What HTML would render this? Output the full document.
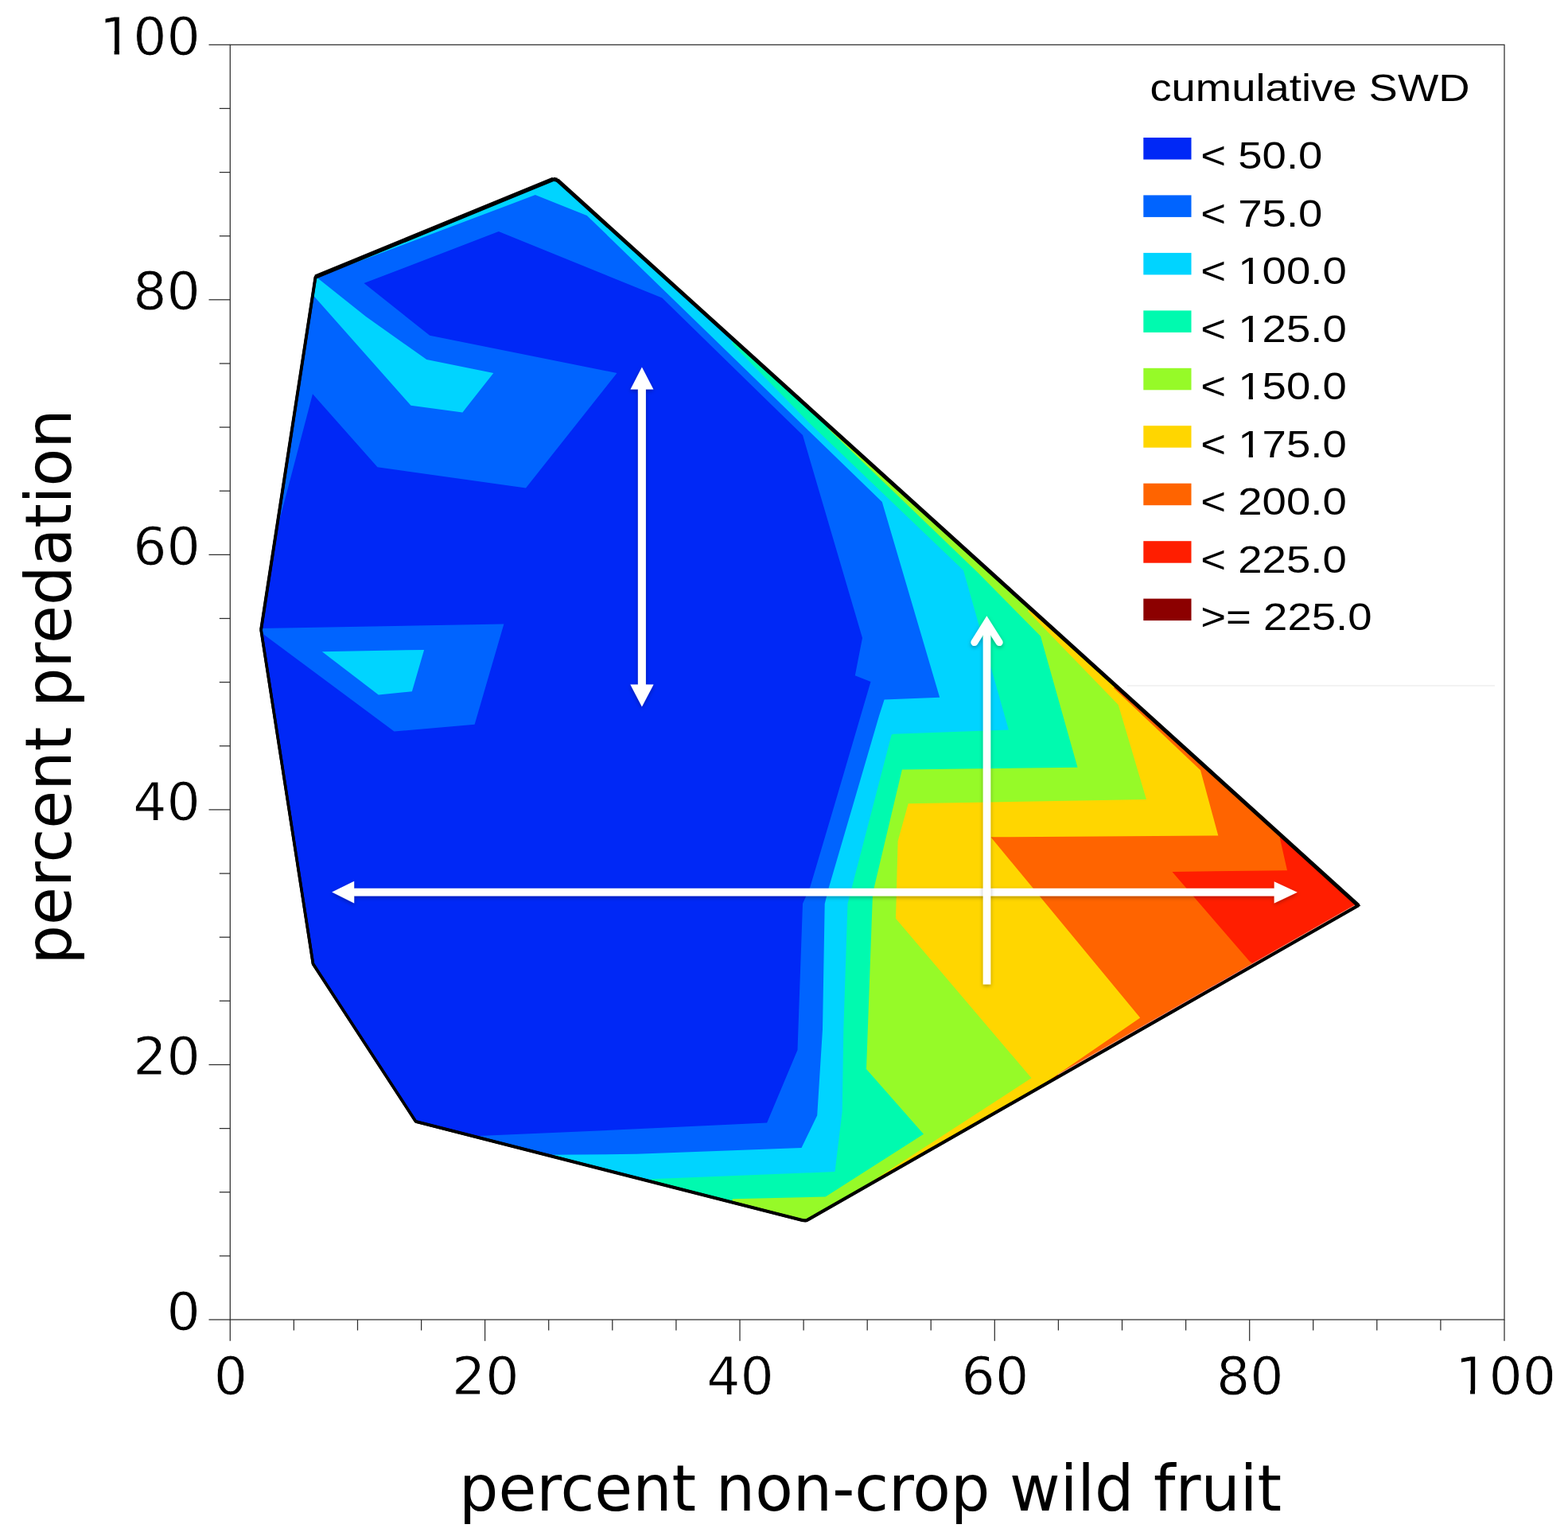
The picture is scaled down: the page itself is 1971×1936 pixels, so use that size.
<!DOCTYPE html>
<html lang="en"><head><meta charset="utf-8"><title>cumulative SWD contour plot</title>
<style>
html,body{margin:0;padding:0;background:#fff;}
body{width:1971px;height:1936px;overflow:hidden;}
svg{display:block;}
.tk{font-family:"DejaVu Sans","Liberation Sans",sans-serif;font-size:66.5px;fill:#000;stroke:#fff;stroke-width:0.8px;}
.ax{font-family:"DejaVu Sans","Liberation Sans",sans-serif;font-size:80px;fill:#000;}
.lg{font-family:"Liberation Sans",Arial,Helvetica,sans-serif;font-size:48.3px;fill:#000;}
</style></head><body>
<svg xmlns="http://www.w3.org/2000/svg" width="1971" height="1936" viewBox="0 0 1971 1936">
<defs>
<clipPath id="hull"><polygon points="695.5,225.2 700.5,226.3 1707.5,1138.3 1013.5,1534.5 1009.5,1534.3 522.6,1409.9 393.5,1211.8 328.1,791.7 396.6,348.0"/></clipPath>
<filter id="sh" x="-50%" y="-50%" width="200%" height="200%"><feDropShadow dx="0" dy="2" stdDeviation="2.5" flood-color="#000" flood-opacity="0.3"/></filter>
</defs>
<rect x="0" y="0" width="1971" height="1936" fill="#fff"/>
<g clip-path="url(#hull)">
<polygon points="695.5,225.2 700.5,226.3 1707.5,1138.3 1013.5,1534.5 1009.5,1534.3 522.6,1409.9 393.5,1211.8 328.1,791.7 396.6,348.0" fill="#0064FF"/>
<polygon points="457.5,356.1 626.8,291.0 832.3,374.6 1009.0,547.1 1084.0,802.0 1074.8,849.3 1094.5,857.1 1052.5,1000.0 1018.3,1115.3 1009.0,1136.0 1002.5,1320.0 964.1,1411.4 800.0,1419.3 602.0,1428.0 515.0,1425.0 380.0,1218.0 316.0,792.0 346.6,672.0 393.0,495.3 474.5,587.2 661.0,613.5 775.5,469.0 540.2,421.8" fill="#0028F6"/>
<polygon points="325.0,790.0 633.4,784.6 596.6,910.7 495.5,919.5 328.0,795.0" fill="#0064FF"/>
<polygon points="388.0,344.0 396.0,347.0 460.0,398.0 536.3,452.0 620.3,469.0 581.4,518.4 516.5,509.8 395.5,373.2 388.0,373.0" fill="#00D4FF"/>
<polygon points="404.9,819.3 533.1,816.9 517.9,869.2 475.8,873.6" fill="#00D4FF"/>
<polygon points="397.0,349.0 672.8,245.1 737.8,270.9 1108.8,631.1 1181.2,876.8 1111.6,879.5 1105.0,900.0 1042.0,1115.3 1036.7,1136.3 1034.0,1294.0 1027.2,1402.2 1007.5,1443.0 800.0,1450.8 694.0,1451.8 690.0,1480.0 1011.0,1560.0 1740.0,1138.0 697.0,200.0 390.0,330.0" fill="#00D4FF"/>
<polygon points="920.0,432.0 1016.9,531.3 1211.0,717.0 1267.9,917.5 1123.4,922.8 1120.7,923.6 1065.5,1136.0 1060.3,1294.0 1058.7,1397.0 1049.5,1473.1 818.4,1482.3 815.0,1500.0 1011.0,1560.0 1740.0,1138.0 930.0,415.0" fill="#00FAAF"/>
<polygon points="1040.0,538.0 1229.3,720.0 1308.0,799.8 1354.5,964.8 1133.9,967.4 1097.0,1123.2 1089.0,1344.0 1161.0,1425.8 1037.7,1504.6 920.8,1507.2 918.0,1525.0 1011.0,1560.0 1740.0,1138.0 1050.0,525.0" fill="#96FA28"/>
<polygon points="1292.0,768.5 1405.7,886.0 1441.0,1005.0 1141.7,1010.3 1128.6,1057.6 1126.0,1154.7 1296.5,1355.3 1074.0,1499.5 1070.0,1515.0 1740.0,1138.0 1300.0,760.0" fill="#FFD600"/>
<polygon points="1400.0,865.0 1509.0,968.2 1531.3,1050.5 1245.4,1052.3 1433.2,1279.5 1305.0,1367.5 1300.0,1380.0 1740.0,1138.0 1410.0,850.0" fill="#FF6400"/>
<polygon points="1608.8,1053.5 1618.0,1094.2 1473.5,1096.0 1570.7,1208.5 1574.0,1211.0 1430.0,1293.4 1395.0,1316.0 1395.0,1330.0 1740.0,1138.0 1615.0,1045.0" fill="#FF1E00"/>
</g>
<polygon points="695.5,225.2 700.5,226.3 1707.5,1138.3 1013.5,1534.5 1009.5,1534.3 522.6,1409.9 393.5,1211.8 328.1,791.7 396.6,348.0" fill="none" stroke="#000" stroke-width="3.4" stroke-linejoin="miter"/>
<line x1="1703.0" y1="1138.4" x2="1330.0" y2="1351.3" stroke="#ffb09a" stroke-width="1.6" stroke-opacity="0.85"/>
<g stroke="#000" stroke-linecap="butt" fill="none">
<line x1="695.5" y1="225.2" x2="700.5" y2="226.3" stroke-width="5.0"/>
<line x1="700.5" y1="226.3" x2="1707.5" y2="1138.3" stroke-width="5.0"/>
<line x1="1707.5" y1="1138.3" x2="1013.5" y2="1534.5" stroke-width="4.2"/>
<line x1="1013.5" y1="1534.5" x2="1009.5" y2="1534.3" stroke-width="4.0"/>
<line x1="1009.5" y1="1534.3" x2="522.6" y2="1409.9" stroke-width="4.0"/>
<line x1="522.6" y1="1409.9" x2="393.5" y2="1211.8" stroke-width="3.6"/>
<line x1="393.5" y1="1211.8" x2="328.1" y2="791.7" stroke-width="3.6"/>
<line x1="328.1" y1="791.7" x2="396.6" y2="348.0" stroke-width="3.9"/>
<line x1="396.6" y1="348.0" x2="695.5" y2="225.2" stroke-width="5.4"/>
</g>
<g stroke="#2e2e2e" stroke-width="1.25" fill="none">
<rect x="289.3" y="56.3" width="1601.7" height="1602.7"/>
<line x1="289.3" y1="1659.0" x2="289.3" y2="1685.8"/>
<line x1="289.3" y1="1659.0" x2="262.5" y2="1659.0"/>
<line x1="369.4" y1="1659.0" x2="369.4" y2="1672.5"/>
<line x1="289.3" y1="1578.9" x2="275.8" y2="1578.9"/>
<line x1="449.5" y1="1659.0" x2="449.5" y2="1672.5"/>
<line x1="289.3" y1="1498.7" x2="275.8" y2="1498.7"/>
<line x1="529.6" y1="1659.0" x2="529.6" y2="1672.5"/>
<line x1="289.3" y1="1418.6" x2="275.8" y2="1418.6"/>
<line x1="609.6" y1="1659.0" x2="609.6" y2="1685.8"/>
<line x1="289.3" y1="1338.5" x2="262.5" y2="1338.5"/>
<line x1="689.7" y1="1659.0" x2="689.7" y2="1672.5"/>
<line x1="289.3" y1="1258.3" x2="275.8" y2="1258.3"/>
<line x1="769.8" y1="1659.0" x2="769.8" y2="1672.5"/>
<line x1="289.3" y1="1178.2" x2="275.8" y2="1178.2"/>
<line x1="849.9" y1="1659.0" x2="849.9" y2="1672.5"/>
<line x1="289.3" y1="1098.1" x2="275.8" y2="1098.1"/>
<line x1="930.0" y1="1659.0" x2="930.0" y2="1685.8"/>
<line x1="289.3" y1="1017.9" x2="262.5" y2="1017.9"/>
<line x1="1010.1" y1="1659.0" x2="1010.1" y2="1672.5"/>
<line x1="289.3" y1="937.8" x2="275.8" y2="937.8"/>
<line x1="1090.2" y1="1659.0" x2="1090.2" y2="1672.5"/>
<line x1="289.3" y1="857.6" x2="275.8" y2="857.6"/>
<line x1="1170.2" y1="1659.0" x2="1170.2" y2="1672.5"/>
<line x1="289.3" y1="777.5" x2="275.8" y2="777.5"/>
<line x1="1250.3" y1="1659.0" x2="1250.3" y2="1685.8"/>
<line x1="289.3" y1="697.4" x2="262.5" y2="697.4"/>
<line x1="1330.4" y1="1659.0" x2="1330.4" y2="1672.5"/>
<line x1="289.3" y1="617.2" x2="275.8" y2="617.2"/>
<line x1="1410.5" y1="1659.0" x2="1410.5" y2="1672.5"/>
<line x1="289.3" y1="537.1" x2="275.8" y2="537.1"/>
<line x1="1490.6" y1="1659.0" x2="1490.6" y2="1672.5"/>
<line x1="289.3" y1="457.0" x2="275.8" y2="457.0"/>
<line x1="1570.7" y1="1659.0" x2="1570.7" y2="1685.8"/>
<line x1="289.3" y1="376.8" x2="262.5" y2="376.8"/>
<line x1="1650.7" y1="1659.0" x2="1650.7" y2="1672.5"/>
<line x1="289.3" y1="296.7" x2="275.8" y2="296.7"/>
<line x1="1730.8" y1="1659.0" x2="1730.8" y2="1672.5"/>
<line x1="289.3" y1="216.6" x2="275.8" y2="216.6"/>
<line x1="1810.9" y1="1659.0" x2="1810.9" y2="1672.5"/>
<line x1="289.3" y1="136.4" x2="275.8" y2="136.4"/>
<line x1="1891.0" y1="1659.0" x2="1891.0" y2="1685.8"/>
<line x1="289.3" y1="56.3" x2="262.5" y2="56.3"/>
</g>
<line x1="1417" y1="862" x2="1879" y2="862" stroke="#efefef" stroke-width="1.5"/>
<text class="tk" x="289.9" y="1753.1" text-anchor="middle">0</text>
<text class="tk" x="251.8" y="1671.6" text-anchor="end">0</text>
<text class="tk" x="610.2" y="1753.1" text-anchor="middle">20</text>
<text class="tk" x="251.8" y="1351.1" text-anchor="end">20</text>
<text class="tk" x="930.6" y="1753.1" text-anchor="middle">40</text>
<text class="tk" x="251.8" y="1030.5" text-anchor="end">40</text>
<text class="tk" x="1250.9" y="1753.1" text-anchor="middle">60</text>
<text class="tk" x="251.8" y="710.0" text-anchor="end">60</text>
<text class="tk" x="1571.3" y="1753.1" text-anchor="middle">80</text>
<text class="tk" x="251.8" y="389.4" text-anchor="end">80</text>
<text class="tk" x="1892.6" y="1753.1" text-anchor="middle">100</text>
<text class="tk" x="251.8" y="68.9" text-anchor="end">100</text>
<text class="ax" x="577" y="1898.8" textLength="1034" lengthAdjust="spacingAndGlyphs">percent non-crop wild fruit</text>
<text class="ax" transform="translate(88.6,1212.4) rotate(-90)" textLength="698" lengthAdjust="spacingAndGlyphs">percent predation</text>
<text class="lg" transform="translate(1445.4,127.2) scale(1.127,1)">cumulative SWD</text>
<rect x="1437.3" y="173.0" width="60.2" height="27.5" fill="#0028F6"/>
<text class="lg" transform="translate(1509.2,212.4) scale(1.13,1)">&lt; 50.0</text>
<rect x="1437.3" y="245.4" width="60.2" height="27.5" fill="#0064FF"/>
<text class="lg" transform="translate(1509.2,284.8) scale(1.13,1)">&lt; 75.0</text>
<rect x="1437.3" y="317.9" width="60.2" height="27.5" fill="#00D4FF"/>
<text class="lg" transform="translate(1509.2,357.3) scale(1.13,1)">&lt; 100.0</text>
<rect x="1437.3" y="390.4" width="60.2" height="27.5" fill="#00FAAF"/>
<text class="lg" transform="translate(1509.2,429.8) scale(1.13,1)">&lt; 125.0</text>
<rect x="1437.3" y="462.8" width="60.2" height="27.5" fill="#96FA28"/>
<text class="lg" transform="translate(1509.2,502.2) scale(1.13,1)">&lt; 150.0</text>
<rect x="1437.3" y="535.2" width="60.2" height="27.5" fill="#FFD600"/>
<text class="lg" transform="translate(1509.2,574.6) scale(1.13,1)">&lt; 175.0</text>
<rect x="1437.3" y="607.7" width="60.2" height="27.5" fill="#FF6400"/>
<text class="lg" transform="translate(1509.2,647.1) scale(1.13,1)">&lt; 200.0</text>
<rect x="1437.3" y="680.2" width="60.2" height="27.5" fill="#FF1E00"/>
<text class="lg" transform="translate(1509.2,719.6) scale(1.13,1)">&lt; 225.0</text>
<rect x="1437.3" y="752.6" width="60.2" height="27.5" fill="#8C0000"/>
<text class="lg" transform="translate(1509.2,792.0) scale(1.13,1)">&gt;= 225.0</text>
<g fill="#fff" stroke="none">
<rect x="131.3" y="63.2" width="12.3" height="6.2"/><rect x="150.0" y="63.2" width="11.6" height="6.2"/>
<rect x="1835.8" y="1747.2" width="12.3" height="6.2"/><rect x="1854.0" y="1747.2" width="12.2" height="6.2"/>
<rect x="1558.4" y="353.0" width="11.3" height="5.2"/><rect x="1574.9" y="353.0" width="10.2" height="5.2"/>
<rect x="1558.4" y="425.4" width="11.3" height="5.2"/><rect x="1574.9" y="425.4" width="10.2" height="5.2"/>
<rect x="1558.4" y="497.9" width="11.3" height="5.2"/><rect x="1574.9" y="497.9" width="10.2" height="5.2"/>
<rect x="1558.4" y="570.4" width="11.3" height="5.2"/><rect x="1574.9" y="570.4" width="10.2" height="5.2"/>
</g>
<g fill="#fff" stroke="none" filter="url(#sh)">
<polygon points="806.9,461.5 821.4,489.5 811.9,489.5 811.9,860.4 821.6,860.4 806.9,888.5 792.3,860.4 801.9,860.4 801.9,489.5 792.5,489.5"/>
<polygon points="417.2,1121.6 445.2,1107.8 445.2,1116.7 1601.7,1116.7 1601.7,1108.3 1630.8,1121.8 1601.7,1135.6 1601.7,1126.5 445.2,1126.5 445.2,1135.4"/>
</g>
<g fill="none" stroke="#fff" filter="url(#sh)">
<line x1="1240.5" y1="783" x2="1240.5" y2="1237.5" stroke-width="9.6" stroke-linecap="butt"/>
<polyline points="1224.8,807.6 1240.4,782.6 1256.2,807.6" stroke-width="9" stroke-linecap="round" stroke-linejoin="miter"/>
</g>
</svg>
</body></html>
